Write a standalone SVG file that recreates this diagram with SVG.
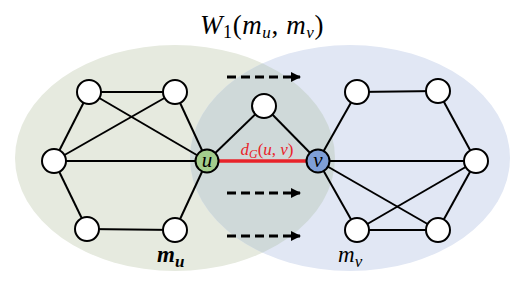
<svg xmlns="http://www.w3.org/2000/svg" width="523" height="287" viewBox="0 0 523 287">
<style>
.e{stroke:#000;stroke-width:2;fill:none}
.n{fill:#fff;stroke:#000;stroke-width:2}
.m{font-family:"Liberation Serif","DejaVu Serif",serif;font-style:italic}
.d{stroke:#000;stroke-width:3;stroke-dasharray:9,5;fill:none}
</style>
<defs>
<clipPath id="cl"><ellipse cx="175" cy="158" rx="160" ry="113"/></clipPath>
<marker id="ah" viewBox="0 0 10 10" refX="9" refY="5" markerWidth="3.4" markerHeight="3.4" orient="auto" markerUnits="strokeWidth"><path d="M0,0L10,5L0,10z" fill="#000"/></marker>
</defs>
<g id="background">
<ellipse cx="175" cy="158" rx="160" ry="113" fill="#e6eadf"/>
<ellipse cx="350" cy="158" rx="160" ry="113" fill="#e1e7f4"/>
<ellipse cx="350" cy="158" rx="160" ry="113" fill="#cfd9d9" clip-path="url(#cl)"/>
</g>
<g id="connectors">
<line class="e" x1="89" y1="92" x2="175" y2="92"/>
<line class="e" x1="89" y1="92" x2="54" y2="161"/>
<line class="e" x1="89" y1="92" x2="207" y2="161"/>
<line class="e" x1="175" y1="92" x2="54" y2="161"/>
<line class="e" x1="175" y1="92" x2="207" y2="161"/>
<line class="e" x1="54" y1="161" x2="207" y2="161"/>
<line class="e" x1="54" y1="161" x2="87" y2="229"/>
<line class="e" x1="87" y1="229" x2="175" y2="230"/>
<line class="e" x1="175" y1="230" x2="207" y2="161"/>
<line class="e" x1="207" y1="161" x2="264" y2="106"/>
<line class="e" x1="264" y1="106" x2="318" y2="161"/>
<line class="e" x1="318" y1="161" x2="357" y2="92"/>
<line class="e" x1="357" y1="92" x2="438" y2="91"/>
<line class="e" x1="438" y1="91" x2="476" y2="161"/>
<line class="e" x1="318" y1="161" x2="476" y2="161"/>
<line class="e" x1="318" y1="161" x2="357" y2="230"/>
<line class="e" x1="318" y1="161" x2="438" y2="230"/>
<line class="e" x1="357" y1="230" x2="438" y2="230"/>
<line class="e" x1="357" y1="230" x2="476" y2="161"/>
<line class="e" x1="438" y1="230" x2="476" y2="161"/>
<line x1="207" y1="161" x2="318" y2="161" stroke="#e8232a" stroke-width="3.5"/>
<line class="d" x1="227" y1="77" x2="300" y2="77" marker-end="url(#ah)"/>
<line class="d" x1="227" y1="193" x2="300" y2="193" marker-end="url(#ah)"/>
<line class="d" x1="227" y1="236" x2="300" y2="236" marker-end="url(#ah)"/>
</g>
<g id="n1"><circle class="n" cx="89" cy="92" r="12"/></g>
<g id="n2"><circle class="n" cx="175" cy="92" r="12"/></g>
<g id="n3"><circle class="n" cx="54" cy="161" r="12"/></g>
<g id="n4"><circle class="n" cx="87" cy="229" r="12"/></g>
<g id="n5"><circle class="n" cx="175" cy="230" r="12"/></g>
<g id="u"><circle class="n" cx="207" cy="161" r="11.5" style="fill:#a3cd8c"/><text class="m" x="207" y="167" font-size="21" text-anchor="middle">u</text></g>
<g id="n6"><circle class="n" cx="264" cy="106" r="12"/></g>
<g id="v"><circle class="n" cx="318" cy="161" r="11.5" style="fill:#7f9fd6"/><text class="m" x="318" y="167" font-size="21" text-anchor="middle">v</text></g>
<g id="n7"><circle class="n" cx="357" cy="92" r="12"/></g>
<g id="n8"><circle class="n" cx="438" cy="91" r="12"/></g>
<g id="n9"><circle class="n" cx="476" cy="161" r="12"/></g>
<g id="n10"><circle class="n" cx="357" cy="230" r="12"/></g>
<g id="n11"><circle class="n" cx="438" cy="230" r="12"/></g>
<g id="labels">
<text class="m" x="262" y="34" font-size="27" text-anchor="middle" letter-spacing="0.6">W<tspan font-style="normal" font-size="18" dy="4">1</tspan><tspan font-style="normal" dy="-4">(</tspan>m<tspan font-size="17" dy="4">u</tspan><tspan font-style="normal" dy="-4">, </tspan>m<tspan font-size="17" dy="4">v</tspan><tspan font-style="normal" dy="-4">)</tspan></text>
<text class="m" x="267" y="155" font-size="17" fill="#e8232a" text-anchor="middle">d<tspan font-size="12" dy="3">G</tspan><tspan font-style="normal" dy="-3">(</tspan>u<tspan font-style="normal">, </tspan>v<tspan font-style="normal">)</tspan></text>
<text class="m" x="157" y="262" font-size="23" font-weight="bold">m<tspan font-size="17" dy="5">u</tspan></text>
<text class="m" x="338" y="262" font-size="23">m<tspan font-size="17" dy="5">v</tspan></text>
</g>
</svg>
